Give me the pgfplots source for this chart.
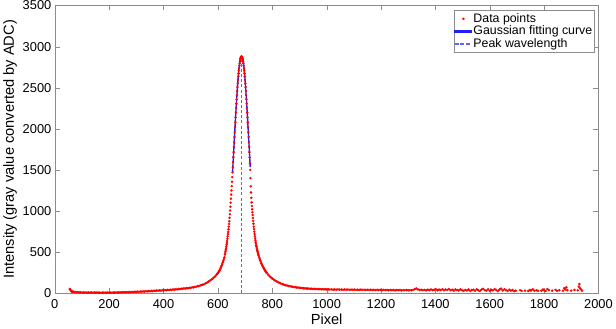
\documentclass[border=0pt]{standalone}
\usepackage{fontspec}
\setmainfont{Liberation Sans}
\usepackage{pgfplots}
\pgfplotsset{compat=1.18}
\definecolor{mred}{rgb}{1,0,0}
\definecolor{mblue}{rgb}{0.12,0.12,1}
\definecolor{dblue}{rgb}{0.38,0.38,1}
\definecolor{axgray}{rgb}{0.55,0.55,0.55}
\pgfplotsset{
  gaussleg/.style={legend image code/.code={\fill[mblue] (0pt,-0.7pt) rectangle (16pt,0.7pt);}},
  peakleg/.style={legend image code/.code={\fill[dblue] (0pt,-0.7pt) rectangle (3pt,0.7pt); \fill[dblue] (5.5pt,-0.7pt) rectangle (8.5pt,0.7pt); \fill[dblue] (11pt,-0.7pt) rectangle (14pt,0.7pt);}},
}
\begin{document}
\begin{tikzpicture}
\begin{axis}[
  scale only axis, width=550pt, height=291pt,
  xmin=0, xmax=2000, ymin=0, ymax=3500,
  xtick={0,200,...,2000}, ytick={0,500,...,3500},
  tick align=inside, major tick length=5pt,
  axis line style={axgray}, tick style={axgray},
  every tick label/.append style={font=\fontsize{13}{15}\selectfont},
  xticklabel style={yshift=-2.5pt},
  yticklabel style={inner ysep=1pt},
  /pgf/number format/assume math mode=true,
  /pgf/number format/1000 sep={},
  xlabel={Pixel}, ylabel={Intensity (gray value converted by ADC)},
  label style={font=\fontsize{14.8}{17}\selectfont},
  xlabel style={yshift=1pt},
  ylabel style={yshift=-1pt},
  legend style={at={(1,1)}, anchor=north east, xshift=-4pt, yshift=-5pt,
    draw=axgray, font=\fontsize{12.5}{15}\selectfont, cells={anchor=west},
    inner xsep=0pt, inner ysep=1pt, row sep=-2pt},
  clip=true,
]
\addplot[color=mred, only marks, mark=*, mark size=1.05pt, mark options={draw=mred, fill=mred}]
coordinates {
(55,50)(57,42)(59,30)(61,22)(63,26)(65,15)(68,18)(71,12)(75,14)(80,9)(85,13)(90,8)(95,11)(100,7)(105,10)(110,6)(115,9)(120,5)(125,8)(130,6)(135,9)(140,5)(145,8)(150,6)(155,9)(160,5)(165,7)(170,4)(175,8)(180,5)(185,7)(190,4)(195,8)(200,5)(205,7)(210,5)(215,8)(220,6)(225,9)(230,7)(235,10)(240,8)(245,11)(250,9)(255,12)(260,10)(265,13)(270,11)(275,14)(280,12)(285,16)(290,13)(295,17)(300,15)(305,19)(310,16)(315,20)(320,18)(325,22)(330,19)(335,24)(340,21)(345,26)(350,23)(355,28)(360,25)(365,30)(370,27)(375,32)(380,29)(385,35)(390,30)(395,36)(400,33)(405,38)(410,35)(415,40)(420,37)(425,42)(430,39)(435,45)(440,42)(445,48)(450,45)(455,51)(460,48)(465,54)(470,52)(475,58)(480,56)(485,62)(490,60)(495,66)(500,64)(505,71)(510,70)(515,77)(520,78)(525,85)(530,86)(535,94)(540,97)(545,105)(550,110)(555,120)(560,128)(565,140)(570,150)(575,162)(580,175)(585,190)(590,205)(595,225)(598,238)
(600,245)(602,255)(604,265)(606,275)(608,290)(610,305)(612,320)(614,335)(616,355)(618,375)(620,395)(622,415)(624,435)
(626,470)(627,487)(628,505)(629,525)(630,545)(631,567)(632,590)(633,612)(634,635)(635,662)(636,690)(637,717)(638,745)(639,777)
(640,810)(641,842)(642,875)(643,917)(644,960)(645,1005)(646,1052)(647,1100)(648,1150)(649,1200)(650,1250)(651,1302)(652,1355)(653,1412)(654,1470)(655,1530)(656,1594)(657,1655)(658,1716)(659,1778)(660,1839)(661,1900)(662,1960)(663,2020)(664,2080)(665,2138)(666,2195)(667,2251)(668,2306)(669,2359)(670,2411)(671,2460)(672,2508)(673,2553)(674,2595)(675,2636)(676,2673)(677,2708)(678,2740)(679,2769)(680,2795)(681,2817)(682,2836)(683,2852)(684,2864)(685,2873)(686,2878)(687,2880)(688,2878)(689,2873)(690,2864)(691,2852)(692,2836)(693,2817)(694,2795)(695,2769)(696,2740)(697,2708)(698,2673)(699,2636)(700,2595)(701,2553)(702,2508)(703,2460)(704,2411)(705,2359)(706,2306)(707,2251)(708,2195)(709,2138)(710,2080)(711,2020)(712,1960)(713,1900)(714,1839)(715,1778)(716,1716)(717,1650)(718,1580)(719,1500)(720,1400)(721,1300)(722,1225)(723,1160)(724,1105)(725,1060)(726,1020)(727,985)(728,950)(729,915)(730,880)(731,845)(732,810)(733,778)(734,748)(735,720)(736,693)(737,667)(738,643)(739,620)(740,600)(741,582)(742,565)(743,548)(744,532)(745,517)(746,504)(747,491)(748,479)(749,467)(750,455)
(752,435)(754,415)(756,397)(758,380)(760,363)(762,348)(764,333)(766,320)(768,308)(770,296)(772,285)(774,274)(776,264)(778,254)(780,245)
(785,225)(790,207)(795,192)(800,178)(805,166)(810,155)(815,145)(820,136)(825,128)(830,120)(836,112)(840,106)(845,101)(850,95)(855,92)(860,87)(865,85)(870,80)(875,78)(880,74)(885,73)(890,69)(895,68)(900,65)(905,64)(910,61)(915,60)(920,58)(925,57)(930,55)(935,56)(940,53)(945,54)(950,51)(955,52)(960,49)(965,51)(970,48)(975,50)(980,47)(985,49)(990,46)(995,48)(1000,45)
(1006,47)(1012,44)(1018,46)(1024,43)(1030,45)(1036,42)(1042,46)(1048,43)(1054,44)(1060,41)(1066,45)(1072,42)(1078,44)(1084,40)(1090,43)(1096,41)(1102,44)(1108,40)(1114,42)(1120,39)(1126,43)(1132,40)(1138,42)(1144,38)(1150,41)(1156,39)(1162,42)(1168,38)(1174,40)(1180,37)(1186,41)(1192,38)(1198,40)(1204,36)(1210,40)(1216,37)(1222,39)(1228,35)(1234,39)(1240,36)(1246,38)(1252,34)(1258,38)(1264,36)(1270,39)(1276,33)(1282,37)(1288,35)(1294,38)(1300,34)(1306,37)(1312,35)(1318,40)(1324,48)(1330,58)(1336,45)(1342,38)(1348,41)(1354,36)(1360,40)(1366,34)(1372,42)(1378,37)(1384,44)(1390,36)(1396,41)(1402,47)(1408,35)(1414,43)(1420,38)(1426,48)(1432,34)(1438,44)(1444,39)(1450,50)(1456,36)(1462,42)(1468,30)(1474,45)(1480,38)(1486,33)(1492,46)(1498,35)(1504,28)(1510,40)(1516,32)(1522,45)(1528,26)(1534,38)(1540,42)(1546,30)(1552,48)(1558,35)(1564,27)(1570,44)(1576,52)(1582,36)(1588,30)(1594,46)(1600,28)(1606,40)(1612,34)(1618,50)(1624,38)(1630,25)(1636,44)(1642,55)(1648,33)(1654,48)(1660,36)(1666,26)(1672,42)(1678,30)(1684,38)(1690,24)(1696,30)
(1712,35)(1718,28)(1730,30)(1742,26)(1748,40)(1752,32)(1758,48)(1764,30)(1772,36)(1778,28)(1790,30)(1796,44)(1800,34)(1806,26)(1812,50)(1818,38)(1830,30)(1842,40)(1848,28)(1856,35)(1870,30)(1874,60)(1878,45)(1882,70)(1886,36)(1900,30)(1912,38)(1924,34)(1928,80)(1930,110)(1932,60)(1936,45)(1940,30)
};
\addlegendentry{Data points}
\addplot[color=mblue, line width=1.4pt, mark=none, gaussleg]
coordinates {
(654,1473)(657,1655)(660,1839)(663,2020)(666,2195)(669,2359)(672,2508)(675,2636)(678,2740)(681,2817)(684,2864)(687,2880)(690,2864)(693,2817)(696,2740)(699,2636)(702,2508)(705,2359)(708,2195)(711,2020)(714,1839)(717,1655)(719,1534)
};
\addlegendentry{Gaussian fitting curve}
\addplot[color=dblue, only marks, mark=|, mark size=1.5pt, mark options={draw=dblue, line width=1.5pt}, peakleg]
coordinates {
(687,18)(687,81)(687,143)(687,206)(687,268)(687,331)(687,394)(687,456)(687,519)(687,581)(687,644)(687,707)(687,769)(687,832)(687,894)(687,957)(687,1020)(687,1082)(687,1145)(687,1207)(687,1270)(687,1333)(687,1395)(687,1458)(687,1520)(687,1583)(687,1646)(687,1708)(687,1771)(687,1833)(687,1896)(687,1959)(687,2021)(687,2084)(687,2146)(687,2209)(687,2272)(687,2334)(687,2397)(687,2459)(687,2522)(687,2585)(687,2647)(687,2710)(687,2772)(687,2835)
};
\addlegendentry{Peak wavelength}
\end{axis}
\end{tikzpicture}
\end{document}
